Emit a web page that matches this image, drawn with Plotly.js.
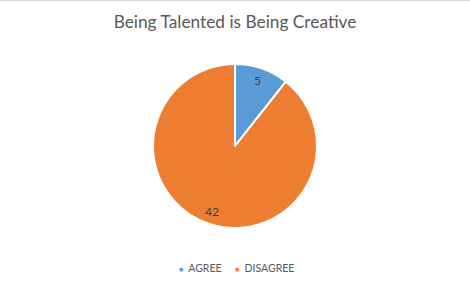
<!DOCTYPE html>
<html>
<head>
<meta charset="utf-8">
<script src="https://cdn.plot.ly/plotly-3.0.1.min.js"></script>
<style>
  html, body { margin: 0; padding: 0; background: #ffffff; }
  #chart { width: 470px; height: 281px; }
</style>
</head>
<body>
<div id="chart"></div>
<script>
// Survey responses
const categories = ['AGREE', 'DISAGREE'];
const counts = [5, 42];
const sliceColors = ['#5B9BD5', '#ED7D31'];
const chartTitle = 'Being Talented is Being Creative';

const W = 470, H = 281;
const margin = { l: 0, r: 0, t: 64, b: 53 };
const plotW = W - margin.l - margin.r;
const plotH = H - margin.t - margin.b;
const radius = Math.min(plotW, plotH) / 2;
const FONT = 'Lato, "Open Sans", sans-serif';

// Data labels sit along each slice's mid-angle, a bit inside the rim
const total = counts.reduce((a, b) => a + b, 0);
const annotations = [];
let start = 0;
counts.forEach((v) => {
  const frac = v / total;
  const mid = (start + frac / 2) * 2 * Math.PI; // clockwise from 12 o'clock
  start += frac;
  const rr = radius * 0.84;
  annotations.push({
    xref: 'paper', yref: 'paper',
    x: 0.5 + rr * Math.sin(mid) / plotW,
    y: 0.5 + rr * Math.cos(mid) / plotH,
    xanchor: 'center', yanchor: 'middle',
    text: String(v),
    showarrow: false,
    font: { family: FONT, size: 12, color: '#404040' }
  });
});

// Legend row under the pie: small square key followed by the category name
const NB = '\u00A0';
const legendText = categories.map((c, i) =>
  '<span style="color:' + sliceColors[i] + ';font-size:7px">\u25A0</span>' + NB + NB + c
).join(NB.repeat(5));
annotations.push({
  xref: 'paper', yref: 'paper',
  x: (236.5 - margin.l) / plotW,
  y: (margin.t + plotH - 268) / plotH,
  xanchor: 'center', yanchor: 'middle',
  text: legendText,
  showarrow: false,
  font: { family: FONT, size: 10.5, color: '#595959' }
});

const pie = {
  type: 'pie',
  labels: categories,
  values: counts,
  sort: false,
  direction: 'clockwise',
  rotation: 0,
  marker: { colors: sliceColors, line: { color: '#ffffff', width: 2 } },
  textinfo: 'none',
  hoverinfo: 'label+value',
  showlegend: false
};

const topEdge = (margin.t + plotH - 0.5) / plotH;

const layout = {
  width: W, height: H,
  margin: margin,
  paper_bgcolor: '#ffffff',
  plot_bgcolor: '#ffffff',
  title: {
    text: chartTitle,
    x: 0.5, xanchor: 'center',
    y: 1 - 21.5 / H, yanchor: 'middle', yref: 'container',
    font: { family: FONT, size: 17.3, color: '#595959' }
  },
  showlegend: false,
  annotations: annotations,
  shapes: [{
    type: 'line', xref: 'paper', yref: 'paper',
    x0: 0, x1: 1, y0: topEdge, y1: topEdge,
    line: { color: '#d9d9d9', width: 1 }
  }]
};

Plotly.newPlot('chart', [pie], layout, { displayModeBar: false, staticPlot: true });
</script>
</body>
</html>
